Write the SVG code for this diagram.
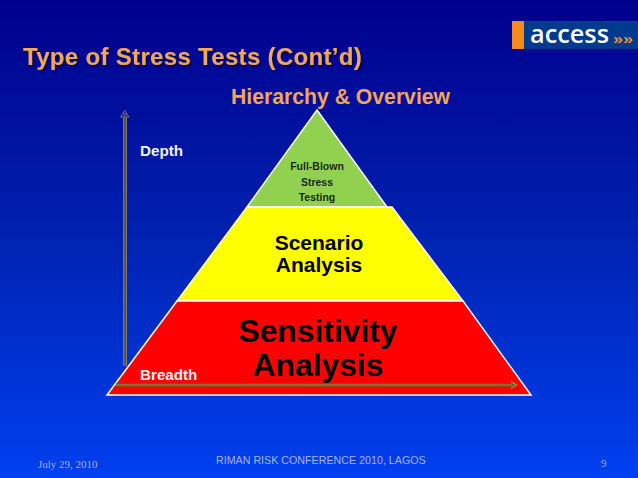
<svg xmlns="http://www.w3.org/2000/svg" width="638" height="478" viewBox="0 0 638 478">
<defs>
<linearGradient id="bg" x1="0" y1="0" x2="0" y2="1"><stop offset="0" stop-color="#00008c"/><stop offset="0.5" stop-color="#0022b0"/><stop offset="1" stop-color="#0040f0"/></linearGradient>
<filter id="sh" x="-5%" y="-20%" width="110%" height="150%"><feDropShadow dx="1.5" dy="2" stdDeviation="1" flood-color="#000030" flood-opacity="0.8"/></filter>
</defs>
<style>
text{font-family:"Liberation Sans",Arial,sans-serif}
.b{font-weight:bold;text-anchor:middle;fill:#000}
.o{font-weight:bold;fill:#f2a65a}
.w{font-weight:bold;fill:#f2f2f2;font-size:15.200px}
.tier{stroke:#fff;stroke-width:1.5;stroke-linejoin:miter}
.foot{fill:#a5b4e8}
</style>
<rect width="638" height="478" fill="url(#bg)"/>
<text x="23" y="65" class="o" font-size="24" letter-spacing="0.32" filter="url(#sh)">Type of Stress Tests (Cont’d)</text>
<text x="231" y="104" class="o" font-size="21.200">Hierarchy &amp; Overview</text>
<g id="logo">
<rect x="512" y="21" width="126" height="28" fill="#003a8c"/>
<rect x="512" y="21" width="12" height="28" fill="#f58a1f"/>
<text x="530" y="43" font-size="25" font-weight="600" fill="#fff" textLength="79" lengthAdjust="spacingAndGlyphs" style="font-family:'Open Sans',sans-serif">access</text>
<text x="613" y="44" font-size="15" font-weight="bold" fill="#e8913a" textLength="20" lengthAdjust="spacingAndGlyphs">»»</text>
</g>
<g id="tier-top">
<polygon class="tier" points="317,110 387,207 247,207" fill="#92d050"/>
<text x="317" y="170" class="b" font-size="10.500" fill-opacity="0.85">Full-Blown</text>
<text x="317" y="185.500" class="b" font-size="10.500" fill-opacity="0.85">Stress</text>
<text x="317" y="201" class="b" font-size="10.500" fill-opacity="0.85">Testing</text>
</g>
<g id="tier-middle">
<polygon class="tier" points="247,207 392,207 463,301 177,301" fill="#ffff00"/>
<text x="319" y="250" class="b" font-size="21">Scenario</text>
<text x="319" y="272" class="b" font-size="21">Analysis</text>
</g>
<g id="tier-bottom">
<polygon class="tier" points="177,301 463,301 531,395 107,395" fill="#ff0000"/>
<text x="318" y="342" class="b" font-size="31.800">Sensitivity</text>
<text x="318" y="376" class="b" font-size="31.800">Analysis</text>
</g>
<g id="connectors" fill="none">
<path d="M125 366V113" stroke="#555" stroke-width="3"/>
<path id="depth-arrow" d="M123.500 366V117H120.500L124.800 110.500L129 117H126.500V366" stroke="#8a8a60" stroke-width="0.800"/>
<path d="M116 385H516" stroke="#5a6a2a" stroke-width="3"/>
<path d="M116 385H512" stroke="#c07030" stroke-width="1"/>
<path d="M511 381.500L516.500 385L511 388.500" stroke="#c08040" stroke-width="1.200"/>
</g>
<text x="140" y="156" class="w">Depth</text>
<text x="140" y="380" class="w">Breadth</text>
<text x="38" y="468" class="foot" font-size="11" style="font-family:'Liberation Serif',serif">July 29, 2010</text>
<text x="216" y="463.500" class="foot" font-size="10.700">RIMAN RISK CONFERENCE 2010, LAGOS</text>
<text x="601" y="467" class="foot" font-size="11" style="font-family:'Liberation Serif',serif">9</text>
</svg>
